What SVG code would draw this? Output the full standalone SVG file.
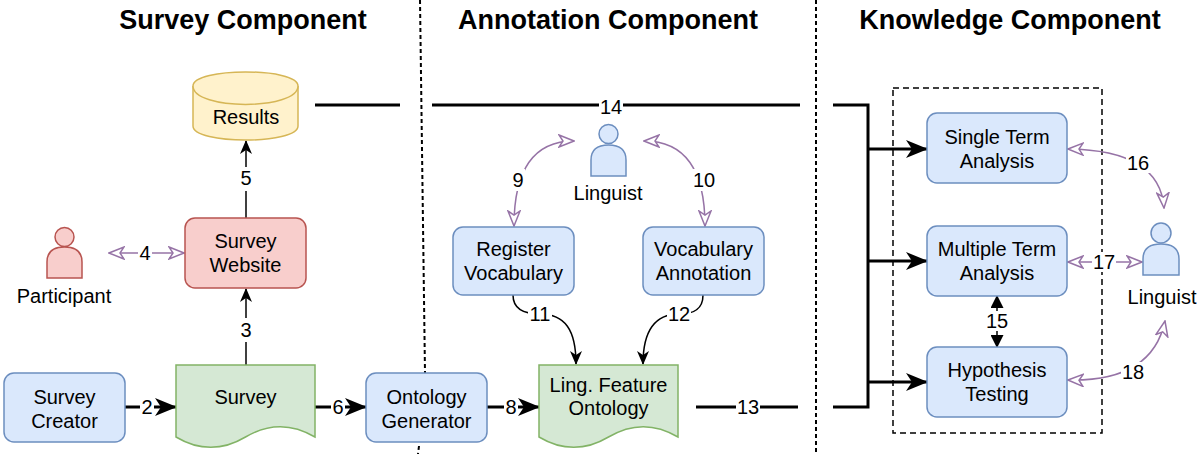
<svg xmlns="http://www.w3.org/2000/svg" width="1200" height="454" viewBox="0 0 1200 454">
<style>
text{font-family:"Liberation Sans",Arial,Helvetica,sans-serif;fill:#000}
.t{font-size:20px;text-anchor:middle}
.h{font-size:27px;font-weight:bold;text-anchor:middle}
.blue{fill:#dae8fc;stroke:#6c8ebf;stroke-width:1.5}
.green{fill:#d5e8d4;stroke:#82b366;stroke-width:1.5}
.red{fill:#f8cecc;stroke:#b85450;stroke-width:1.5}
.yellow{fill:#fff2cc;stroke:#d6b656;stroke-width:1.5}
.thick{fill:none;stroke:#000;stroke-width:3}
.thin{fill:none;stroke:#000;stroke-width:1.5}
.pur{fill:none;stroke:#9673a6;stroke-width:1.5}
.sep{fill:none;stroke:#000;stroke-width:2;stroke-dasharray:4 3}
.bg{fill:#fff}
</style>
<defs>
<marker id="big" markerUnits="userSpaceOnUse" viewBox="0 0 22 18" markerWidth="22" markerHeight="18" refX="21" refY="9" orient="auto">
<path d="M0,0 L22,9 L0,18 L6,9 Z" fill="#000"/>
</marker>
<marker id="sm" markerUnits="userSpaceOnUse" viewBox="0 0 14 12" markerWidth="14" markerHeight="12" refX="13" refY="6" orient="auto">
<path d="M0,0 L14,6 L0,12 L4,6 Z" fill="#000"/>
</marker>
<marker id="blk" markerUnits="userSpaceOnUse" viewBox="0 0 13 13" markerWidth="13" markerHeight="13" refX="12" refY="6.5" orient="auto-start-reverse">
<path d="M0,0 L13,6.5 L0,13 Z" fill="#000"/>
</marker>
<marker id="op" markerUnits="userSpaceOnUse" viewBox="0 0 17 14" markerWidth="17" markerHeight="14" refX="16" refY="7" orient="auto-start-reverse">
<path d="M1,1 L16,7 L1,13 L5,7 Z" fill="#fff" stroke="#9673a6" stroke-width="1.5"/>
</marker>
</defs>

<g id="titles">
<text class="h" x="243" y="29">Survey Component</text>
<text class="h" x="608" y="29">Annotation Component</text>
<text class="h" x="1010" y="29">Knowledge Component</text>
</g>

<g id="separators">
<path class="sep" d="M420,0 L425,373 M419,446 L418,454"/>
<path class="sep" d="M816,0 V454"/>
<rect x="893" y="88" width="209" height="345" fill="none" stroke="#000" stroke-width="1.5" stroke-dasharray="6 4"/>
</g>

<g id="connectors">
<path class="thick" d="M125,407 H176" marker-end="url(#big)"/>
<rect class="bg" x="140" y="397" width="14" height="20"/><text class="t" x="147" y="414">2</text>
<path class="thick" d="M315,407 H366" marker-end="url(#big)"/>
<rect class="bg" x="331" y="397" width="14" height="20"/><text class="t" x="338" y="414">6</text>
<path class="thick" d="M487,407 H539" marker-end="url(#big)"/>
<rect class="bg" x="504" y="397" width="14" height="20"/><text class="t" x="511" y="414">8</text>
<path class="thin" d="M246,365 V289" marker-end="url(#sm)"/>
<rect class="bg" x="238" y="318" width="16" height="24"/><text class="t" x="246" y="337">3</text>
<path class="thin" d="M246,218 V141" marker-end="url(#sm)"/>
<rect class="bg" x="238" y="167" width="16" height="24"/><text class="t" x="246" y="185">5</text>
<path class="pur" d="M109,253 H184" marker-start="url(#op)" marker-end="url(#op)"/>
<rect class="bg" x="138" y="243" width="14" height="20"/><text class="t" x="145" y="260">4</text>
<path class="thick" d="M315,105 H400"/>
<path class="thick" d="M432,105 H800"/>
<rect class="bg" x="599" y="97" width="24" height="20"/><text class="t" x="611" y="114">14</text>
<path class="thick" d="M696,407 H798"/>
<rect class="bg" x="736" y="397" width="24" height="20"/><text class="t" x="748" y="414">13</text>
<path class="thick" d="M833,105 H868 V407 H833"/>
<path class="thick" d="M868,149 H927" marker-end="url(#big)"/>
<path class="thick" d="M868,261 H927" marker-end="url(#big)"/>
<path class="thick" d="M868,382 H927" marker-end="url(#big)"/>
<path class="pur" d="M514,226 Q514,141 574,141" marker-start="url(#op)" marker-end="url(#op)"/>
<rect class="bg" x="511" y="169" width="14" height="22"/><text class="t" x="518" y="187">9</text>
<path class="pur" d="M705,226 Q705,141 644,141" marker-start="url(#op)" marker-end="url(#op)"/>
<rect class="bg" x="692" y="169" width="24" height="22"/><text class="t" x="704" y="187">10</text>
<path class="thin" d="M513,295 C513,310 525,314 540,314 C565,314 576,330 576,364" marker-end="url(#sm)"/>
<rect class="bg" x="528" y="304" width="24" height="20"/><text class="t" x="540" y="321">11</text>
<path class="thin" d="M703,295 C703,310 693,314 679,314 C655,314 643,330 643,364" marker-end="url(#sm)"/>
<rect class="bg" x="667" y="304" width="24" height="20"/><text class="t" x="679" y="321">12</text>
<path class="thin" d="M997,296 V347" marker-start="url(#blk)" marker-end="url(#blk)"/>
<rect class="bg" x="985" y="311" width="24" height="20"/><text class="t" x="997" y="328">15</text>
<path class="pur" d="M1068,149 Q1160,150 1164,208" marker-start="url(#op)" marker-end="url(#op)"/>
<rect class="bg" x="1126" y="153" width="24" height="20"/><text class="t" x="1138" y="170">16</text>
<path class="pur" d="M1068,262 H1142" marker-start="url(#op)" marker-end="url(#op)"/>
<rect class="bg" x="1092" y="252" width="24" height="20"/><text class="t" x="1104" y="269">17</text>
<path class="pur" d="M1068,380 Q1152,382 1165,321" marker-start="url(#op)" marker-end="url(#op)"/>
<rect class="bg" x="1121" y="362" width="24" height="20"/><text class="t" x="1133" y="379">18</text>
</g>

<g id="results">
<path class="yellow" d="M193,86 C193,67.3 298,67.3 298,86 V126 C298,144.7 193,144.7 193,126 Z"/>
<path class="yellow" fill="none" d="M193,86 C193,110.5 298,110.5 298,86"/>
<text class="t" x="246" y="124">Results</text>
</g>

<g id="survey-website">
<rect class="red" x="185" y="218" width="121" height="70" rx="10"/>
<text class="t" x="245.5" y="248">Survey</text>
<text class="t" x="245.5" y="272">Website</text>
</g>

<g id="participant">
<circle class="red" cx="64.5" cy="237" r="9.5"/>
<path class="red" d="M47,278 V262 Q47,247 64.5,247 Q82,247 82,262 V278 Z"/>
<text class="t" x="64" y="303">Participant</text>
</g>

<g id="survey-creator">
<rect class="blue" x="4" y="373" width="121" height="69" rx="10"/>
<text class="t" x="64.5" y="404">Survey</text>
<text class="t" x="64.5" y="428">Creator</text>
</g>

<g id="survey">
<path class="green" d="M176,365 H315 V437 Q280.25,416.3 245.5,437 Q210.75,457.7 176,437 Z"/>
<text class="t" x="245.5" y="404">Survey</text>
</g>

<g id="ontology-generator">
<rect class="blue" x="366" y="373" width="121" height="69" rx="10"/>
<text class="t" x="426.5" y="404">Ontology</text>
<text class="t" x="426.5" y="428">Generator</text>
</g>

<g id="ling-feature-ontology">
<path class="green" d="M539,365 H678 V437 Q643.25,416.3 608.5,437 Q573.75,457.7 539,437 Z"/>
<text class="t" x="608.5" y="392">Ling. Feature</text>
<text class="t" x="608.5" y="415">Ontology</text>
</g>

<g id="linguist-annotation">
<circle class="blue" cx="608.5" cy="134" r="9.5"/>
<path class="blue" d="M591,176 V160 Q591,145 608.5,145 Q626,145 626,160 V176 Z"/>
<text class="t" x="608" y="200">Linguist</text>
</g>

<g id="register-vocabulary">
<rect class="blue" x="453" y="227" width="121" height="68" rx="10"/>
<text class="t" x="513.5" y="256">Register</text>
<text class="t" x="513.5" y="280">Vocabulary</text>
</g>

<g id="vocabulary-annotation">
<rect class="blue" x="643" y="227" width="121" height="68" rx="10"/>
<text class="t" x="703.5" y="256">Vocabulary</text>
<text class="t" x="703.5" y="280">Annotation</text>
</g>

<g id="single-term-analysis">
<rect class="blue" x="927" y="113" width="140" height="70" rx="10"/>
<text class="t" x="997" y="144">Single Term</text>
<text class="t" x="997" y="168">Analysis</text>
</g>

<g id="multiple-term-analysis">
<rect class="blue" x="927" y="226" width="140" height="70" rx="10"/>
<text class="t" x="997" y="256">Multiple Term</text>
<text class="t" x="997" y="280">Analysis</text>
</g>

<g id="hypothesis-testing">
<rect class="blue" x="927" y="347" width="140" height="70" rx="10"/>
<text class="t" x="997" y="377">Hypothesis</text>
<text class="t" x="997" y="401">Testing</text>
</g>

<g id="linguist-knowledge">
<circle class="blue" cx="1161" cy="233" r="10"/>
<path class="blue" d="M1143,275 V259 Q1143,244 1161,244 Q1179,244 1179,259 V275 Z"/>
<text class="t" x="1162" y="304">Linguist</text>
</g>
</svg>
